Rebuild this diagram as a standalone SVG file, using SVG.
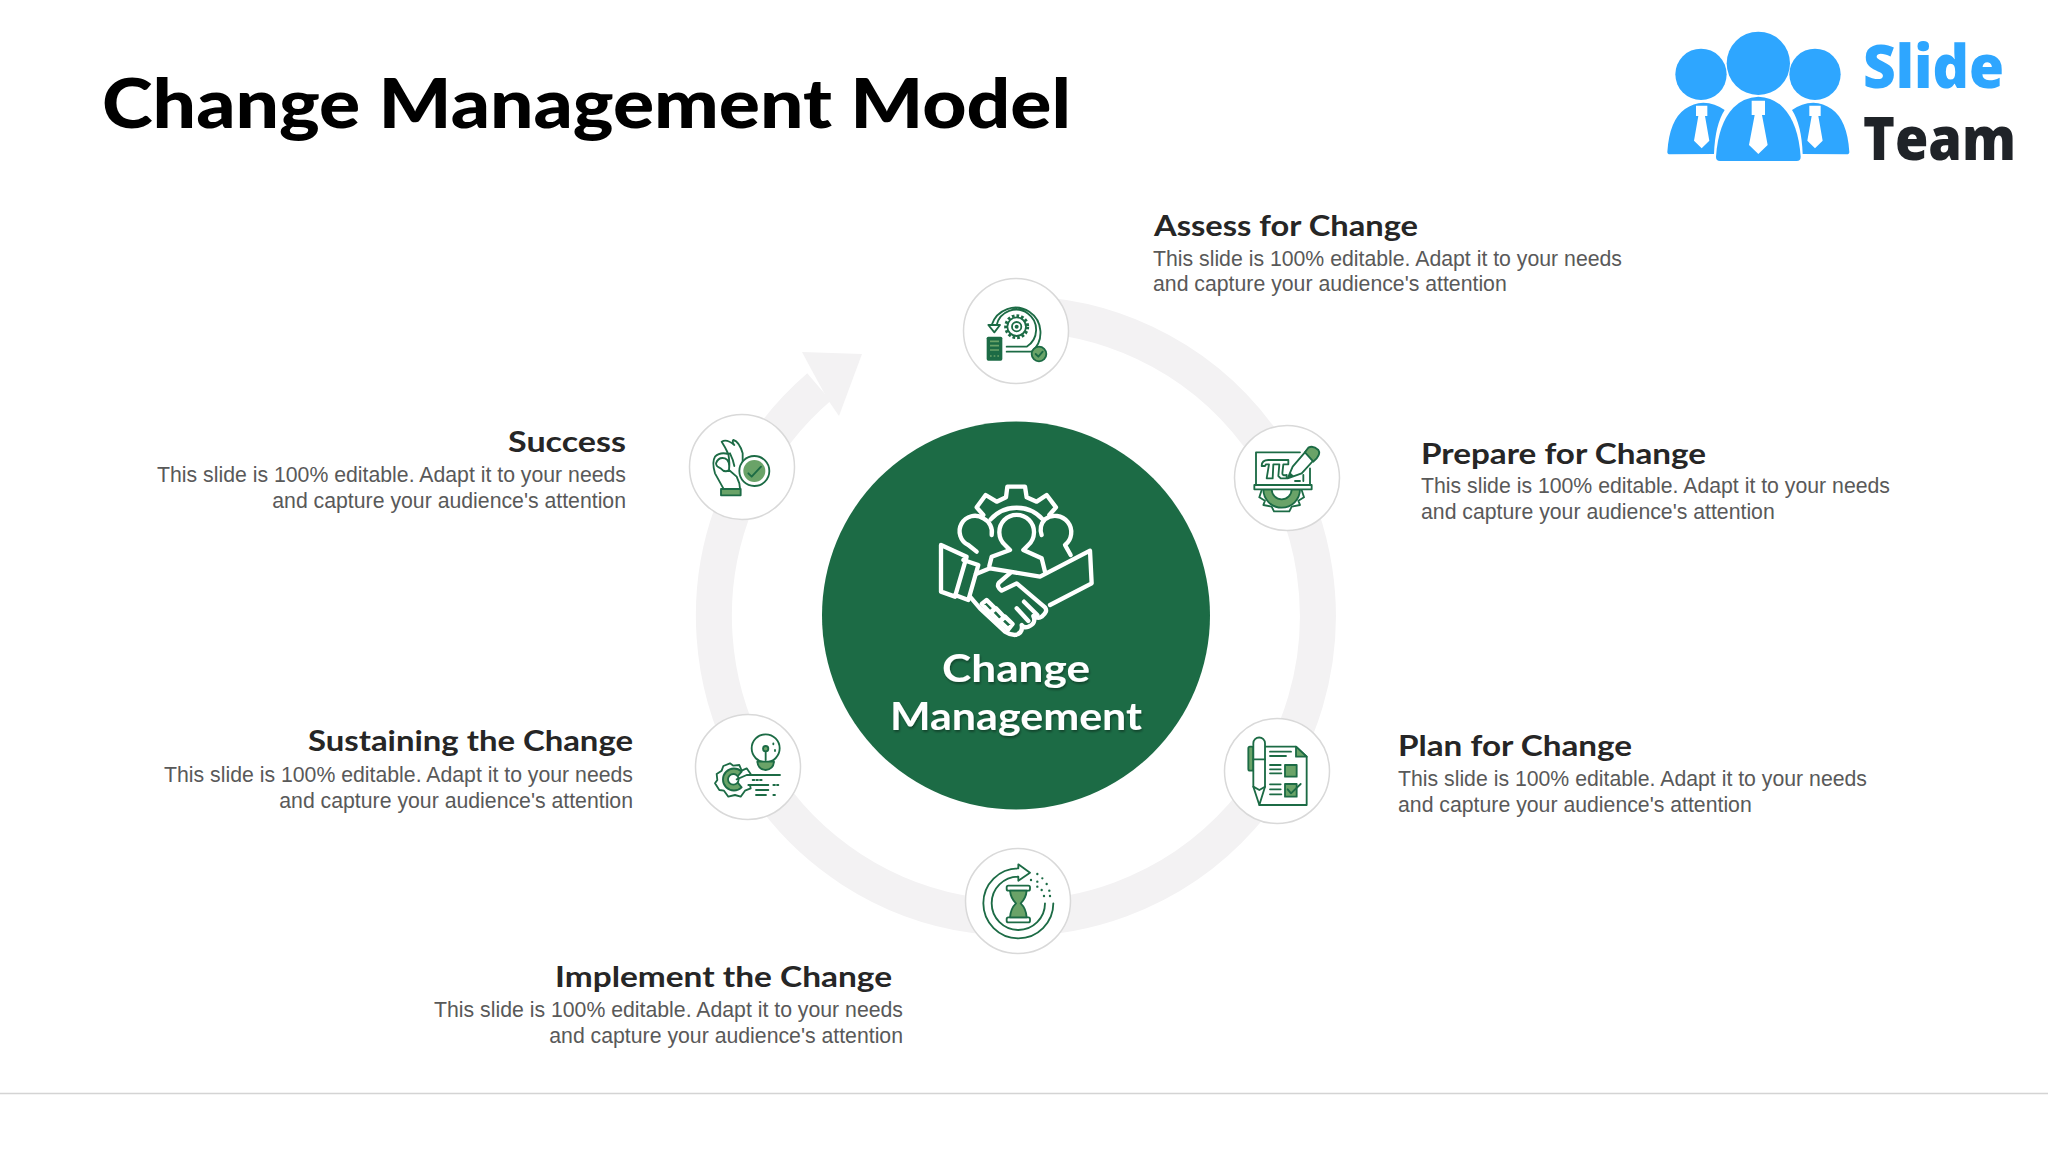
<svg xmlns="http://www.w3.org/2000/svg" width="2048" height="1152" viewBox="0 0 2048 1152">
<defs>
<style>
.title{font-family:Lato,"Liberation Sans",sans-serif;font-weight:900;font-size:69px;fill:#000}
.h{font-family:Lato,"Liberation Sans",sans-serif;font-weight:700;font-size:29px;fill:#262626}
.b{font-family:"Liberation Sans",Arial,sans-serif;font-size:21.25px;fill:#595959}
.c{font-family:Lato,"Liberation Sans",sans-serif;font-weight:700;font-size:38px;fill:#fff;text-anchor:middle;filter:url(#sh)}
.e{text-anchor:end}
.node{fill:#fff;stroke:#d9d9d9;stroke-width:1.5}
.s{fill:none;stroke:#1c6b45;stroke-width:5.5;stroke-linecap:round;stroke-linejoin:round}
.f{fill:#6aa368;stroke:#1c6b45;stroke-width:5.5;stroke-linejoin:round}
.w{fill:#fff;stroke:#1c6b45;stroke-width:5.5;stroke-linejoin:round}
.d{fill:#1c6b45}
.l{fill:none;stroke:#fff;stroke-width:13;stroke-linecap:round;stroke-linejoin:round}
.bl{fill:#2ea6ff}
.t{fill:#fff}
.lg{font-family:"Open Sans","DejaVu Sans",sans-serif;font-weight:800;font-size:60px}
</style>
<filter id="sh" x="-10%" y="-20%" width="120%" height="150%"><feDropShadow dx="1" dy="2" stdDeviation="1.2" flood-color="#000" flood-opacity=".35"/></filter>
</defs>
<rect width="2048" height="1152" fill="#fff"/>
<text class="title" x="102" y="128" textLength="969" lengthAdjust="spacingAndGlyphs">Change Management Model</text>

<g id="logo">
<g transform="translate(1640 10) scale(.33333)">
<circle class="bl" cx="183" cy="193" r="77"/>
<circle class="bl" cx="525" cy="193" r="77"/>
<path class="bl" d="M82 426Q88 330 135 297Q160 279 190 278Q225 279 254 300Q225 345 222 432L90 433Q82 433 82 426Z"/>
<path class="bl" d="M628 426Q622 330 575 297Q550 279 520 278Q485 279 456 300Q485 345 488 432L620 433Q628 433 628 426Z"/>
<circle class="bl" cx="355" cy="160" r="95"/>
<path class="bl" d="M228 440Q235 340 280 293Q310 262 355 260Q400 262 430 293Q475 340 482 440Q482 453 470 453L240 453Q228 453 228 440Z"/>
<path class="t" d="M335 272H375V315H366L383 405L355 432L327 405L344 315H335Z"/>
<path class="t" d="M168 287H202V318H195L208 392L185 415L162 392L175 318H168Z"/>
<path class="t" d="M508 287H542V318H535L548 392L525 415L502 392L515 318H508Z"/>
</g>
<text class="lg" x="1863" y="87.5" textLength="141" lengthAdjust="spacingAndGlyphs" fill="#2ea6ff">Slide</text>
<text class="lg" x="1863" y="160" textLength="153" lengthAdjust="spacingAndGlyphs" fill="#1f2328">Team</text>
</g>

<g id="connectors">
<path d="M1016.5 314A302 302 0 1 1 819 387" fill="none" stroke="#f3f2f3" stroke-width="36"/>
<path d="M802 352L862 354L839 416L828 400L810 367Z" fill="#f3f2f3"/>
</g>

<g id="center">
<circle cx="1016" cy="615.5" r="194" fill="#1c6b45"/>
<g transform="translate(820 420) scale(.33333)">
<path class="l" d="M490 285L470 262L497 225L530 245L558 232L562 200H615L620 232L650 245L680 225L708 262L688 285"/>
<path class="l" d="M512 298A105 105 0 0 1 668 298"/>
<path class="l" d="M490 295A46 46 0 1 0 445 375L470 395M515 345A46 46 0 0 0 490 295"/>
<path class="l" d="M555 375A52 52 0 1 1 625 375L610 390L665 415L675 455M555 375L570 390L515 410L508 438"/>
<path class="l" d="M675 298A46 46 0 1 1 735 375L752 405M665 345A46 46 0 0 1 675 298"/>
<path class="l" d="M363 375L440 410L405 530L363 515ZM430 420L475 435L445 540L405 525"/>
<path class="l" d="M468 462L510 445L570 455L660 470L810 392L815 490L690 555"/>
<path class="l" d="M572 458L537 488Q528 500 545 512L590 490L675 562Q685 575 665 590Q655 598 640 588Q650 610 625 620Q612 625 605 615Q610 640 585 645Q570 645 555 635L480 565L450 530"/>
<path class="l" d="M500 540L525 565L510 578L485 552ZM528 565L552 590L538 605L512 578ZM555 590L578 612L565 628L540 605Z"/>
<path class="l" d="M590 565L625 603M612 545L652 585"/>
</g>
<text class="c" x="1016" y="682" textLength="148" lengthAdjust="spacingAndGlyphs">Change</text>
<text class="c" x="1016" y="730" textLength="252" lengthAdjust="spacingAndGlyphs">Management</text>
</g>

<g id="assess">
<circle class="node" cx="1016" cy="331" r="52.5"/>
<g transform="translate(960 270) scale(.33333)">
<path class="s" d="M95 165A75 75 0 1 1 215 245H140M110 165A60 60 0 1 1 200 230H140"/>
<path class="s" d="M85 165H120L103 187Z"/>
<circle cx="170" cy="170" r="33" fill="none" stroke="#1c6b45" stroke-width="9" stroke-dasharray="8 6"/>
<circle class="w" cx="170" cy="170" r="28"/>
<circle class="s" cx="170" cy="170" r="14"/>
<circle class="d" cx="170" cy="170" r="6"/>
<rect class="d" x="80" y="200" width="47" height="72" rx="5"/>
<path d="M90 214H117M90 227H117M90 240H117" stroke="#6aa368" stroke-width="5"/>
<path d="M90 258H117" stroke="#6aa368" stroke-width="5" stroke-dasharray="5 6"/>
<circle class="f" cx="237" cy="252" r="22"/>
<path class="s" d="M227 252L235 260L248 245"/>
</g>
</g>

<g id="prepare">
<circle class="node" cx="1287" cy="478" r="52.5"/>
<g transform="translate(1220 410) scale(.33333)">
<path class="f" d="M130 238A55 55 0 0 0 240 238H215A30 30 0 0 1 155 238Z"/>
<path class="s" d="M125 240L118 262L135 272L130 285L155 290L162 304H208L215 290L240 285L235 272L252 262L245 240"/>
<path class="s" d="M240 127H108V225M270 175V225M225 213H240M250 195V213"/>
<rect class="w" x="103" y="225" width="172" height="13"/>
<path class="s" d="M125 168Q125 150 145 150H205V163H190L187 190Q187 198 200 195V205H182L175 198L178 163H160L158 205H140L147 163H138L135 168Z"/>
<path class="w" d="M203 205L218 170L265 115L295 135L245 190Z"/>
<path class="f" d="M255 127L265 113Q280 105 295 120Q302 130 290 145L280 155Z"/>
<path class="d" d="M203 205L210 187L222 198Z"/>
</g>
</g>

<g id="plan">
<circle class="node" cx="1277" cy="771" r="52.5"/>
<g transform="translate(1210 700) scale(.33333)">
<path class="s" d="M165 140H258L290 170V315H148"/>
<path class="f" d="M258 140V170H290Z"/>
<rect class="f" x="115" y="140" width="15" height="72" rx="5"/>
<path class="w" d="M130 130A17 17 0 0 1 165 130V260L148 315L130 260Z"/>
<path class="s" d="M130 178H165M130 260L148 270L165 260"/>
<path class="s" d="M180 155H243M180 168H228M180 195H212M180 208H212M180 253H212M180 268H212M180 220H214M180 283H214"/>
<rect class="f" x="225" y="195" width="35" height="35"/>
<rect class="f" x="225" y="252" width="35" height="38"/>
<path class="s" d="M233 268L243 280L272 252"/>
</g>
</g>

<g id="implement">
<circle class="node" cx="1018" cy="901" r="52.5"/>
<g transform="translate(950 830) scale(.33333)">
<path class="s" d="M205 115A105 105 0 1 0 310 220M205 140A80 80 0 1 0 285 220M205 115V103L240 128L205 152V140"/>
<rect class="w" x="170" y="167" width="70" height="15" rx="5"/>
<rect class="w" x="170" y="262" width="70" height="15" rx="5"/>
<path class="f" d="M180 182Q182 205 198 220Q182 235 180 262H230Q228 235 212 220Q228 205 230 182Z"/>
<g class="d"><circle cx="262" cy="132" r="3.5"/><circle cx="243" cy="150" r="3.5"/><circle cx="277" cy="145" r="3.5"/><circle cx="262" cy="155" r="3.5"/><circle cx="290" cy="162" r="3.5"/><circle cx="262" cy="170" r="3.5"/><circle cx="275" cy="180" r="3.5"/><circle cx="298" cy="182" r="3.5"/><circle cx="282" cy="198" r="3.5"/><circle cx="300" cy="198" r="3.5"/></g>
</g>
</g>

<g id="sustaining">
<circle class="node" cx="748" cy="767" r="52.5"/>
<g transform="translate(680 700) scale(.33333)">
<circle class="s" cx="257" cy="145" r="42"/>
<path class="f" d="M232 185H282Q280 208 257 210Q234 208 232 185Z"/>
<path class="s" d="M257 155V180M280 130V133M285 150V153"/>
<circle class="f" cx="257" cy="146" r="8"/>
<path class="s" d="M212 222L200 205L185 212L178 195L160 197L150 190L130 198L125 212L110 222L112 240L105 250L118 270L132 272L145 290L165 285L182 290L195 272L212 265L210 255"/>
<path class="f" d="M185 215A33 33 0 1 0 185 262L165 238Z"/>
<circle class="w" cx="160" cy="238" r="16"/>
<path class="s" d="M170 238L200 225H300M205 255H265M228 270H265M228 285H258"/>
<path class="s" d="M218 240H245M280 255H295M280 285H285" stroke-dasharray="5 6"/>
</g>
</g>

<g id="success">
<circle class="node" cx="742" cy="467" r="52.5"/>
<g transform="translate(680 260) scale(.33333)">
<path class="s" d="M130 685L105 640Q95 605 105 590Q120 575 145 582Q135 560 125 545Q140 535 163 555Q155 545 160 540Q178 545 188 580V630M150 580Q160 600 163 618M145 582Q150 610 147 630Q135 640 122 625Q108 620 108 610Q115 590 135 595Q150 600 147 630L170 650L178 670L180 685"/>
<path class="f" d="M123 687H182V706H123Z"/>
<circle class="w" cx="223" cy="633" r="45"/>
<circle class="f" cx="223" cy="633" r="33" style="stroke:none"/>
<path class="s" d="M205 640L215 650L243 620"/>
</g>
</g>

<g id="labels">
<text class="h" x="1154" y="236" textLength="264" lengthAdjust="spacingAndGlyphs">Assess for Change</text>
<text class="b" x="1153" y="265.5">This slide is 100% editable. Adapt it to your needs</text>
<text class="b" x="1153" y="291">and capture your audience's attention</text>
<text class="h" x="1421" y="464" textLength="285" lengthAdjust="spacingAndGlyphs">Prepare for Change</text>
<text class="b" x="1421" y="493">This slide is 100% editable. Adapt it to your needs</text>
<text class="b" x="1421" y="519">and capture your audience's attention</text>
<text class="h" x="1398" y="756" textLength="234" lengthAdjust="spacingAndGlyphs">Plan for Change</text>
<text class="b" x="1398" y="786">This slide is 100% editable. Adapt it to your needs</text>
<text class="b" x="1398" y="812">and capture your audience's attention</text>
<text class="h e" x="892" y="987" textLength="337" lengthAdjust="spacingAndGlyphs">Implement the Change</text>
<text class="b e" x="903" y="1017">This slide is 100% editable. Adapt it to your needs</text>
<text class="b e" x="903" y="1043">and capture your audience's attention</text>
<text class="h e" x="633" y="751" textLength="325" lengthAdjust="spacingAndGlyphs">Sustaining the Change</text>
<text class="b e" x="633" y="782">This slide is 100% editable. Adapt it to your needs</text>
<text class="b e" x="633" y="808">and capture your audience's attention</text>
<text class="h e" x="626" y="452" textLength="118" lengthAdjust="spacingAndGlyphs">Success</text>
<text class="b e" x="626" y="482">This slide is 100% editable. Adapt it to your needs</text>
<text class="b e" x="626" y="508">and capture your audience's attention</text>
</g>
<path d="M0 1093.5H2048" stroke="#d4d4d4" stroke-width="1.5"/>
</svg>
